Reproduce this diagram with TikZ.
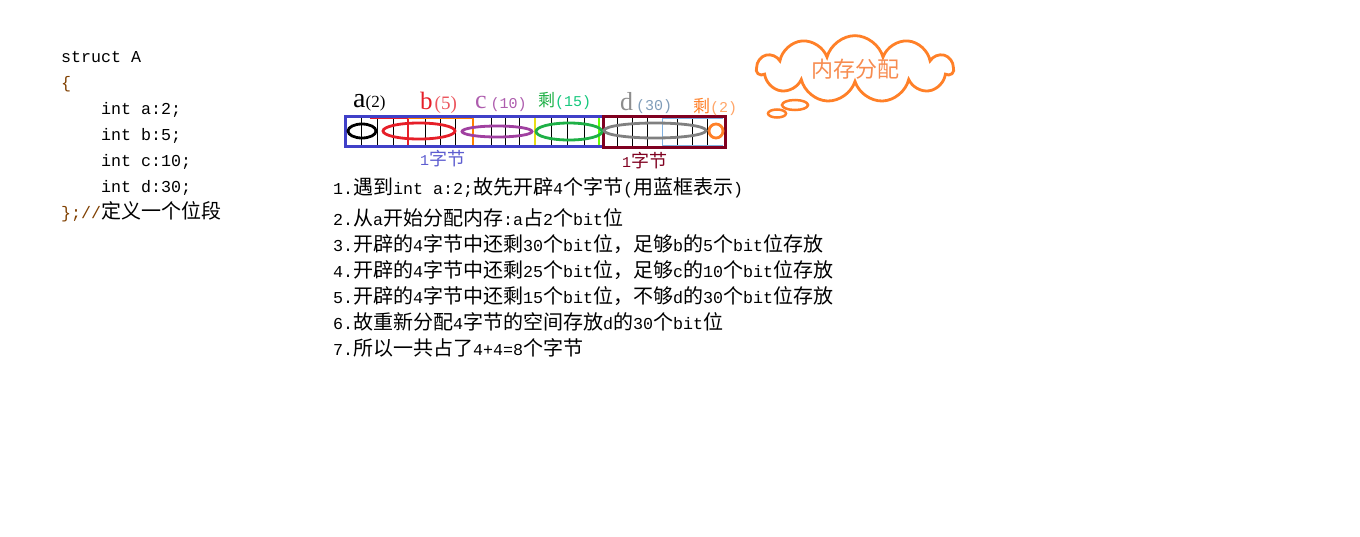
\documentclass[tikz,border=0pt]{standalone}
\usepackage{fontspec}
\usetikzlibrary{shapes.symbols}
\setmainfont{Liberation Mono}[Scale=0.8333]
\newfontfamily\latmono{Liberation Mono}[Scale=0.8333]
\newfontfamily\cjk{Noto Sans CJK SC}
\newfontfamily\lserif{Liberation Serif}
\XeTeXinterchartokenstate=1
\newXeTeXintercharclass\CJKcls
\newcount\mycnt
\mycnt="4E00
\loop
  \XeTeXcharclass\mycnt=\CJKcls
  \advance\mycnt by 1
\ifnum\mycnt<"A000 \repeat
\mycnt="FF00
\loop
  \XeTeXcharclass\mycnt=\CJKcls
  \advance\mycnt by 1
\ifnum\mycnt<"FF60 \repeat
\XeTeXinterchartoks 0 \CJKcls = {\cjk}
\XeTeXinterchartoks 4095 \CJKcls = {\cjk}
\XeTeXinterchartoks \CJKcls 0 = {\latmono}
\definecolor{brace}{RGB}{128,64,0}
\definecolor{boxblue}{RGB}{64,64,200}
\definecolor{boxred}{RGB}{128,0,32}
\definecolor{ered}{RGB}{230,30,40}
\definecolor{epurple}{RGB}{160,64,160}
\definecolor{egreen}{RGB}{30,176,70}
\definecolor{egray}{RGB}{128,128,128}
\definecolor{eorange}{RGB}{255,128,40}
\definecolor{lblue}{RGB}{128,176,224}
\definecolor{cloudor}{RGB}{255,128,40}
\definecolor{cloudtxt}{RGB}{247,140,80}
\begin{document}
\begin{tikzpicture}[x=1pt,y=-1pt,
  txt/.style={inner sep=0pt, anchor=base west, font=\latmono\fontsize{20}{26}\selectfont},
  lbl/.style={inner sep=0pt, anchor=base west},
  cellline/.style={line width=0.9pt, black},
  ell/.style={line width=2.8pt}]
\useasboundingbox (0,0) rectangle (1360,536);
\fill[white] (0,0) rectangle (1360,536);
% struct code
\node[txt] (s1) at (61,62) {struct A};
\node[txt, text=brace] (s2) at (61,88) {\{};
\node[txt] (s3) at (101,114) {int a:2;};
\node[txt] (s4) at (101,140) {int b:5;};
\node[txt] (s5) at (101,166) {int c:10;};
\node[txt] (s6) at (101,192) {int d:30;};
\node[txt] (s7) at (61,218) {\textcolor{brace}{\};//}定义一个位段};
% cells of the blue box
\foreach \x in {361,377,393,425,440,455,491,505,519,551,567,584}
  \draw[cellline] (\x,116) -- (\x,146);
\draw[line width=1.2pt, ered] (408,116) -- (408,146);
\draw[line width=1.2pt, orange] (473,116) -- (473,146);
\draw[line width=1.2pt, yellow!90!black] (535,116) -- (535,146);
\draw[line width=1.2pt, green!60!yellow] (599,116) -- (599,146);
\draw[line width=1pt, ered] (370,118) -- (408,118);
\draw[line width=1pt, orange] (408,118) -- (473,118);
% cells of the dark red box
\foreach \x in {617,632,647,677,692,707}
  \draw[cellline] (\x,116) -- (\x,147);
\draw[line width=1pt, lblue] (662,116) -- (662,147);
\draw[line width=1pt, lblue] (662,118.5) -- (723,118.5);
\draw[line width=1pt, lblue] (662,145) -- (723,145);
% box borders
\draw[line width=3pt, boxblue] (345,116) rectangle (603,146);
\draw[line width=3pt, boxred] (603,116) rectangle (725,147);
% ellipses
\draw[ell, black] (362,131) ellipse [x radius=14, y radius=7];
\draw[ell, ered] (419,131) ellipse [x radius=36, y radius=8];
\draw[ell, epurple] (497,131.5) ellipse [x radius=35, y radius=5.5];
\draw[ell, egreen] (569,131.5) ellipse [x radius=33, y radius=8.5];
\draw[ell, egray] (655,130.5) ellipse [x radius=51, y radius=7.5];
\draw[ell, eorange] (716,131) circle [radius=7];
% labels above the boxes
\node[lbl] (la) at (353,107) {\lserif\fontsize{28}{28}\selectfont a\fontsize{17}{17}\selectfont(2)};
\node[lbl] (lb) at (420,109) {\lserif\color{ered}\fontsize{25}{25}\selectfont b\hspace{2pt}\color{ered!75!white}\fontsize{19}{19}\selectfont(5)};
\node[lbl, text=epurple!85!white] (lc) at (475,108) {\lserif\fontsize{26}{26}\selectfont c\hspace{4pt}\latmono\fontsize{18}{18}\selectfont(10)};
\node[lbl] (lr1) at (538,106) {\cjk\fontsize{17}{17}\selectfont\textcolor{egreen}{剩}\latmono\fontsize{18}{18}\selectfont\textcolor{egreen!70!cyan}{(15)}};
\node[lbl] (ld) at (620,110) {\lserif\fontsize{26}{26}\selectfont\textcolor{egray!90!white}{d}\hspace{3pt}\latmono\fontsize{18}{18}\selectfont\textcolor{lblue!60!gray}{(30)}};
\node[lbl] (lr2) at (693,112) {\cjk\fontsize{17}{17}\selectfont\textcolor{eorange}{剩}\latmono\fontsize{18}{18}\selectfont\textcolor{eorange!70!white}{(2)}};
% byte labels
\node[lbl, text=boxblue!85!white] (by1) at (420,165) {\latmono\fontsize{18}{18}\selectfont 1字节};
\node[lbl, text=boxred] (by2) at (622,167) {\latmono\fontsize{18}{18}\selectfont 1字节};
% steps
\node[txt] (t1) at (333,194) {1.遇到int a:2;故先开辟4个字节(用蓝框表示)};
\node[txt] (t2) at (333,225) {2.从a开始分配内存:a占2个bit位};
\node[txt] (t3) at (333,251) {3.开辟的4字节中还剩30个bit位，足够b的5个bit位存放};
\node[txt] (t4) at (333,277) {4.开辟的4字节中还剩25个bit位，足够c的10个bit位存放};
\node[txt] (t5) at (333,303) {5.开辟的4字节中还剩15个bit位，不够d的30个bit位存放};
\node[txt] (t6) at (333,329) {6.故重新分配4字节的空间存放d的30个bit位};
\node[txt] (t7) at (333,355) {7.所以一共占了4+4=8个字节};
% cloud
\draw[line width=2.5pt, cloudor, fill=white] (795,105) ellipse [x radius=13, y radius=5];
\draw[line width=2.5pt, cloudor, fill=white] (777,113.5) ellipse [x radius=9, y radius=4];
\node[cloud, cloud puffs=11, aspect=3, draw=cloudor, line width=2.8pt, fill=white,
  minimum width=196pt, minimum height=66pt, inner sep=0pt,
  text=cloudtxt, font=\cjk\fontsize{22}{22}\selectfont] (cl) at (855,69) {内存分配};
\end{tikzpicture}
\end{document}
